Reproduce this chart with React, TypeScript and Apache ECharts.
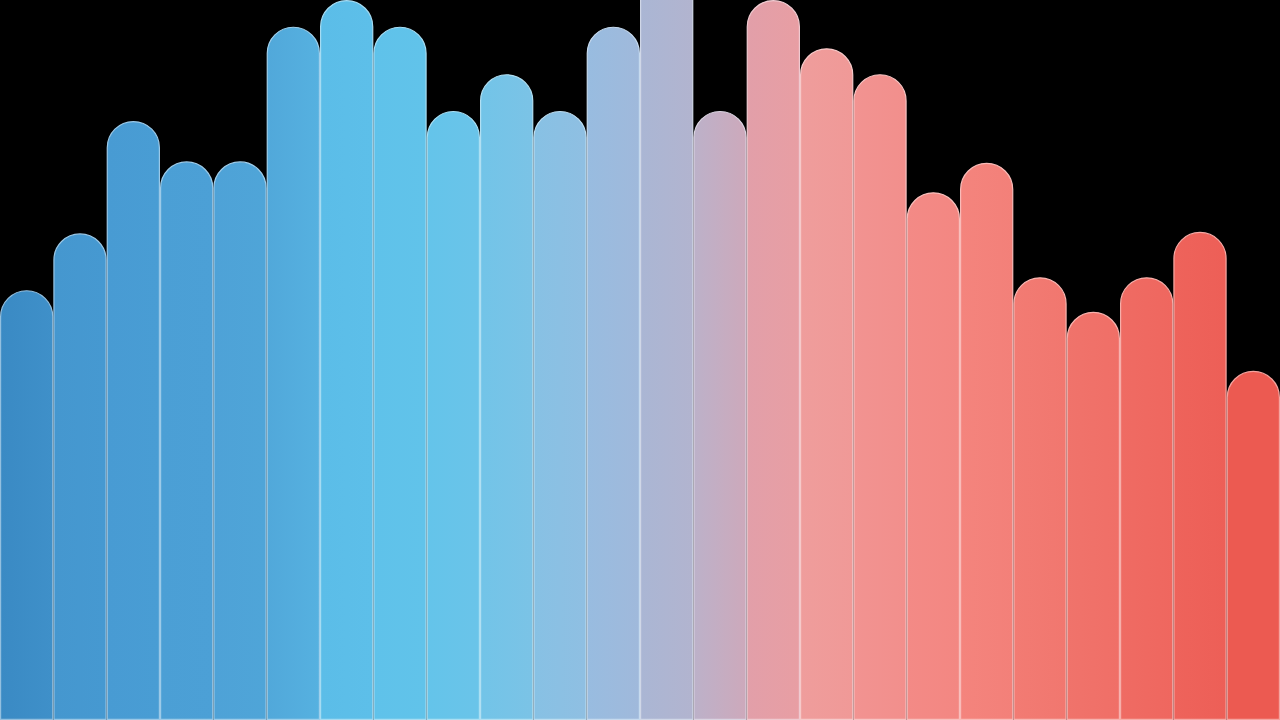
import React, { useEffect, useRef } from "react";
import * as echarts from "echarts";

const categories = [
  "1", "2", "3", "4", "5", "6", "7", "8", "9", "10", "11", "12",
  "13", "14", "15", "16", "17", "18", "19", "20", "21", "22", "23", "24",
];
const values = [
  59.7, 67.6, 83.2, 77.6, 77.6, 96.3, 100, 96.3, 84.6, 89.7, 84.6, 96.3,
  105, 84.6, 100, 93.3, 89.7, 73.3, 77.4, 61.5, 56.7, 61.5, 67.8, 48.5,
];
const barColors = [
  "#3a8ac4", "#4597cf", "#489bd3", "#4b9fd5", "#4ea2d7", "#51a8da",
  "#5bbde8", "#5fc2ea", "#64c4ea", "#72c4e8", "#87c1e4", "#98bce0",
  "#aab6d4", "#bcb1c9", "#e29fa9", "#ef9d9c", "#f29391", "#f38a86",
  "#f4847d", "#f27b73", "#f0736b", "#ef6b63", "#ee635b", "#ec5a51",
];

function mix(a: string, b: string, t: number): string {
  const pa = [1, 3, 5].map((i) => parseInt(a.slice(i, i + 2), 16));
  const pb = [1, 3, 5].map((i) => parseInt(b.slice(i, i + 2), 16));
  const c = pa.map((v, i) => Math.round(v + (pb[i] - v) * t));
  return "#" + c.map((v) => v.toString(16).padStart(2, "0")).join("");
}

export default function App() {
  const ref = useRef<HTMLDivElement>(null);
  useEffect(() => {
    document.body.style.margin = "0";
    document.body.style.background = "#000";
    document.body.style.overflow = "hidden";
    const chart = echarts.init(ref.current!, null, { renderer: "svg" });
    const data = values.map((v, i) => {
      const c = barColors[i];
      const next = barColors[Math.min(i + 1, barColors.length - 1)];
      const lighter = mix(c, "#ffffff", 0.45);
      return {
        value: v,
        itemStyle: {
          color: new echarts.graphic.LinearGradient(0, 0, 1, 0, [
            { offset: 0, color: c },
            { offset: 1, color: mix(c, next, 0.45) },
          ]),
          borderColor: lighter,
        },
      };
    });
    chart.setOption({
      animation: false,
      backgroundColor: "#000000",
      grid: { left: 0, right: 0, top: 0, bottom: 0 },
      xAxis: {
        type: "category",
        data: categories,
        show: false,
      },
      yAxis: {
        type: "value",
        min: 0,
        max: 110,
        show: false,
      },
      series: [
        {
          type: "bar",
          data,
          barCategoryGap: "0%",
          itemStyle: {
            borderRadius: [27, 27, 0, 0],
            borderWidth: 1.2,
          },
        },
      ],
    });
    return () => chart.dispose();
  }, []);
  // The chart is 72px taller than the page and shifted up, so 100 meets the top edge
  return (
    <div
      ref={ref}
      style={{ position: "absolute", left: 0, top: -72, width: 1280, height: 792 }}
    />
  );
}
